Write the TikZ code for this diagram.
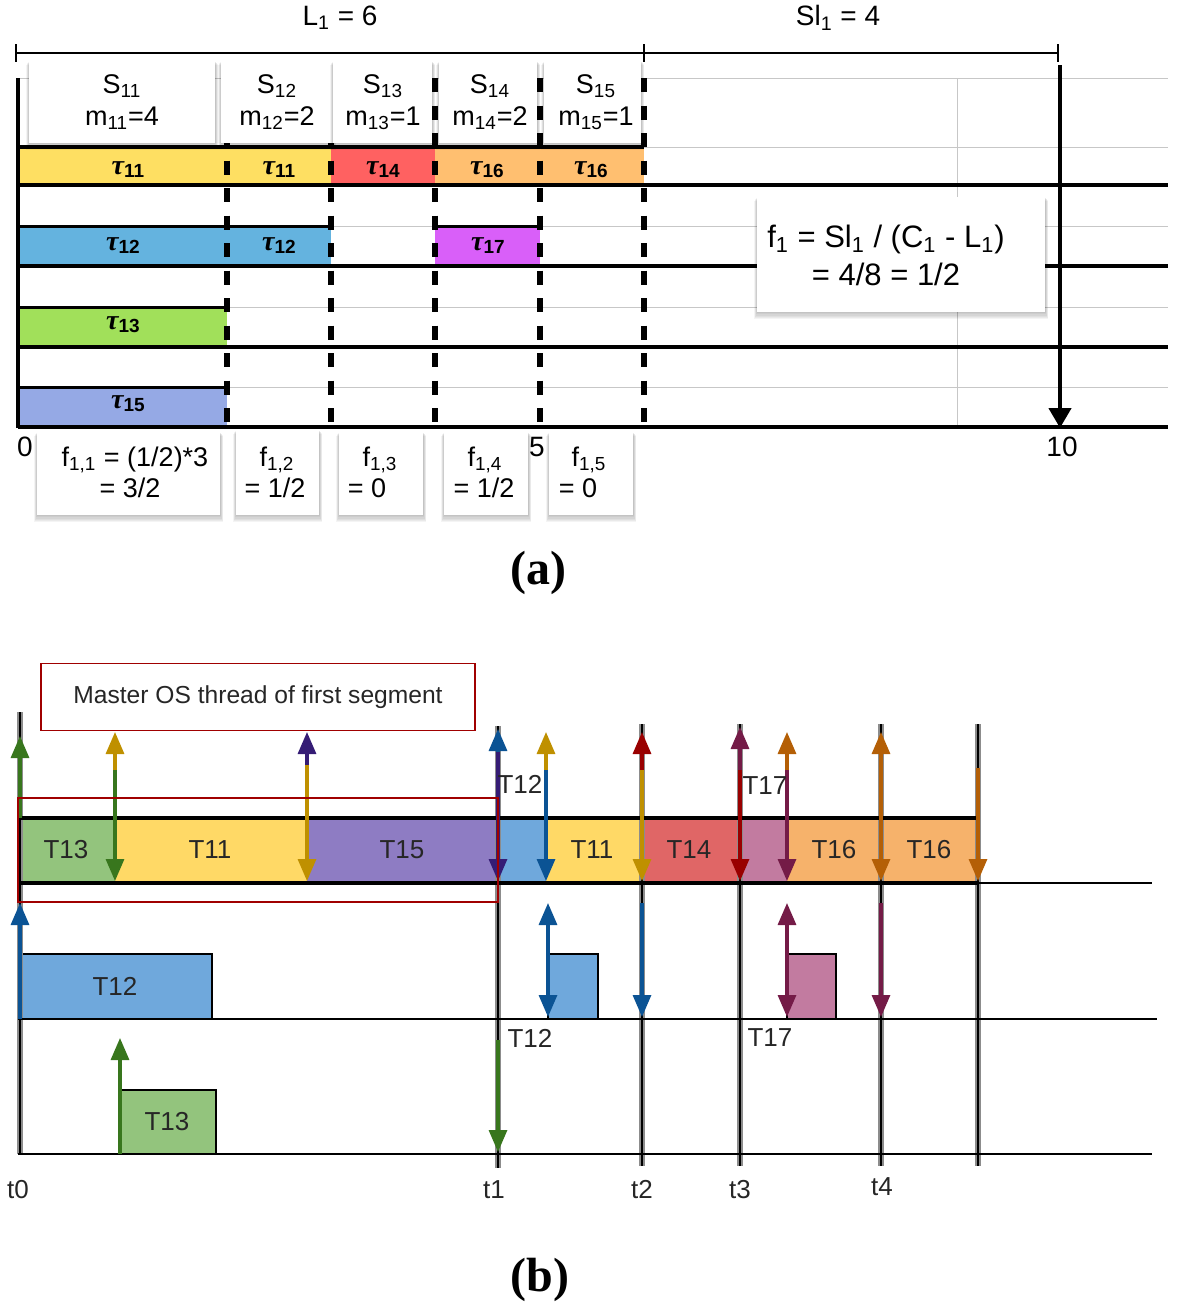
\documentclass[tikz,border=0pt]{standalone}
\usepackage{fontspec}
\setmainfont{Liberation Sans}
\newfontfamily\serifface{Liberation Serif}
\usetikzlibrary{arrows.meta}
\newcommand\sbs[1]{\textsubscript{#1}}
\newcommand\taul[1]{{\serifface\bfseries\itshape\fontsize{14}{14}\selectfont τ}\raisebox{-1.5pt}{\bfseries\fontsize{9.5}{10}\selectfont #1}}
\newcommand\varr[5]{\coordinate (#1s) at (#3,#4); \coordinate (#1e) at (#3,#5); \draw[arr,#2] (#1s) -- (#1e);}
\newcommand\darr[5]{\coordinate (#1s) at (#3,#4); \coordinate (#1e) at (#3,#5); \draw[darrow,#2] (#1s) -- (#1e);}
% soft-shadowed white box: x1 y1 x2 y2
\newcommand\shadowbox[4]{%
  \foreach \k in {1,...,6} {\fill[black, opacity=0.045] ({#1-0.5*\k},{#2+0.6*\k}) rectangle ({#3+0.5*\k},{#4+1.2*\k});}%
  \fill[white] (#1,#2) rectangle (#3,#4);}
% colours (a)
\definecolor{aY}{HTML}{FEDF62}
\definecolor{aR}{HTML}{FF6161}
\definecolor{aO}{HTML}{FFBF70}
\definecolor{aB}{HTML}{64B3DF}
\definecolor{aP}{HTML}{D95FF9}
\definecolor{aG}{HTML}{A1E05A}
\definecolor{aL}{HTML}{95A9E5}
% colours (b)
\definecolor{bG}{HTML}{93C47D}
\definecolor{bY}{HTML}{FFD966}
\definecolor{bP}{HTML}{8E7CC3}
\definecolor{bB}{HTML}{6FA8DC}
\definecolor{bR}{HTML}{E06666}
\definecolor{bK}{HTML}{C27BA0}
\definecolor{bO}{HTML}{F6B26B}
\definecolor{dG}{HTML}{38761D}
\definecolor{dY}{HTML}{BF9000}
\definecolor{dP}{HTML}{351C75}
\definecolor{dB}{HTML}{0B5394}
\definecolor{dR}{HTML}{990000}
\definecolor{dK}{HTML}{741B47}
\definecolor{dO}{HTML}{B45F06}
\definecolor{frame}{HTML}{A00000}
\begin{document}
\begin{tikzpicture}[x=0.5pt,y=-0.5pt,
  gridln/.style={draw=black!22, line width=0.5pt},
  blk/.style={draw=black, line width=2pt},
  blkthin/.style={draw=black, line width=1.5pt},
  dsh/.style={draw=black, line width=2.6pt, dash pattern=on 7pt off 6.75pt},
  alab/.style={inner sep=0pt, font=\fontsize{14}{16}\selectfont},
  hdr/.style={align=center, inner sep=0pt, font=\fontsize{13.5}{16}\selectfont},
  flab/.style={inner sep=0pt, anchor=base, font=\fontsize{13.5}{16}\selectfont},
  tlab/.style={inner sep=0pt},
  blab/.style={inner sep=0pt, text=black!85, font=\fontsize{13}{15}\selectfont},
  tline/.style={draw=black, line width=1.2pt, preaction={draw=black!45, line width=2.6pt}},
  arr/.style={line width=1.6pt, -{Triangle[width=9pt,length=11pt]}},
  darrow/.style={line width=1.6pt, {Triangle[width=9pt,length=11pt]}-{Triangle[width=9pt,length=11pt]}},
  caption/.style={inner sep=0pt, font=\serifface\bfseries\fontsize{24}{26}\selectfont}
]
\useasboundingbox (0,0) rectangle (1181,1307);

% ================= (a) =================
% grid
\draw[gridln] (18,78) -- (1168,78);
\foreach \yy in {147,226,307,387} \draw[gridln] (18,\yy) -- (1168,\yy);
\draw[gridln] (957,78) -- (957,427);

% bars
\fill[aY] (18,147) rectangle (331,185);
\fill[aR] (331,147) rectangle (435,185);
\fill[aO] (435,147) rectangle (644,185);
\fill[aB] (18,226) rectangle (331,266);
\fill[aP] (435,226) rectangle (540,266);
\fill[aG] (18,307) rectangle (227,347);
\fill[aL] (18,387) rectangle (227,427);

% black lines
\draw[blk] (18,147) -- (644,147);
\draw[blkthin] (18,226) -- (331,226);
\draw[blkthin] (435,226) -- (540,226);
\draw[blkthin] (18,307) -- (227,307);
\draw[blkthin] (18,387) -- (227,387);
\foreach \yy in {185,266,347,427} \draw[blk] (18,\yy) -- (1168,\yy);
\draw[blk] (18,78) -- (18,428);

% dashed segment boundaries
\foreach \xx in {227,331,435,540,644} \draw[dsh] (\xx,78) -- (\xx,427);

% bracket
\draw[line width=1.4pt] (16,53) -- (1058,53);
\foreach \xx in {16,644,1058} \draw[line width=0.8pt] (\xx,44) -- (\xx,62);
\node[alab] (l1) at (340,18) {L\sbs{1} = 6};
\node[alab] (sl1) at (838,18) {Sl\sbs{1} = 4};

% header boxes
\shadowbox{29}{61}{215}{143}
\shadowbox{221}{61}{333}{143}
\shadowbox{333}{61}{432}{143}
\shadowbox{439}{61}{537}{143}
\shadowbox{544}{61}{641}{143}
\node[hdr] (s11) at (122,102) {S\sbs{11}\\m\sbs{11}=4};
\node[hdr] (s12) at (277,102) {S\sbs{12}\\m\sbs{12}=2};
\node[hdr] (s13) at (383,102) {S\sbs{13}\\m\sbs{13}=1};
\node[hdr] (s14) at (490,102) {S\sbs{14}\\m\sbs{14}=2};
\node[hdr] (s15) at (596,102) {S\sbs{15}\\m\sbs{15}=1};

% task labels
\node[tlab] (ta1) at (128,170) {\taul{11}};
\node[tlab] (ta2) at (279,170) {\taul{11}};
\node[tlab] (ta3) at (383,170) {\taul{14}};
\node[tlab] (ta4) at (487,170) {\taul{16}};
\node[tlab] (ta5) at (591,170) {\taul{16}};
\node[tlab] (tb1) at (123,246) {\taul{12}};
\node[tlab] (tb2) at (279,246) {\taul{12}};
\node[tlab] (tb3) at (488,246) {\taul{17}};
\node[tlab] (tc1) at (123,325) {\taul{13}};
\node[tlab] (td1) at (128,404) {\taul{15}};

% formula box
\shadowbox{757}{197}{1045}{312}
\node[align=center, inner sep=0pt, font=\fontsize{15.5}{19}\selectfont] (form) at (886,255) {f\sbs{1} = Sl\sbs{1} / (C\sbs{1} - L\sbs{1})\\= 4/8 = 1/2};

% deadline arrow
\coordinate (dl1) at (1060,65);
\coordinate (dl2) at (1060,428);
\draw[line width=2.2pt, -{Triangle[width=11pt,length=10pt]}] (dl1) -- (dl2);

% axis numbers
\node[alab] (n0) at (25,447) {0};
\node[alab] (n5) at (537,447) {5};
\node[alab] (n10) at (1062,447) {10};

% f boxes
\shadowbox{37}{432}{220}{515}
\shadowbox{236}{430}{319}{515}
\shadowbox{339}{432}{423}{515}
\shadowbox{444}{432}{528}{515}
\shadowbox{549}{432}{633}{515}
\node[flab] (f11a) at (135,466) {f\sbs{1,1} = (1/2)*3};
\node[flab] (f11b) at (130,497) {= 3/2};
\node[flab] (f12a) at (277,466) {f\sbs{1,2}};
\node[flab] (f12b) at (275,497) {= 1/2};
\node[flab] (f13a) at (380,466) {f\sbs{1,3}};
\node[flab] (f13b) at (367,497) {= 0};
\node[flab] (f14a) at (485,466) {f\sbs{1,4}};
\node[flab] (f14b) at (484,497) {= 1/2};
\node[flab] (f15a) at (589,466) {f\sbs{1,5}};
\node[flab] (f15b) at (578,497) {= 0};

\node[caption] (capa) at (538,573) {(a)};

% ================= (b) =================
\node[draw=frame, line width=0.9pt, minimum width=217pt, minimum height=33.5pt, inner sep=0pt, text=black!85, font=\fontsize{12.3}{14}\selectfont] (master) at (258,697) {Master OS thread of first segment};

% bar fills
\fill[bG] (18,818) rectangle (115,883);
\fill[bY] (115,818) rectangle (307,883);
\fill[bP] (307,818) rectangle (498,883);
\fill[bB] (498,818) rectangle (546,883);
\fill[bY] (546,818) rectangle (642,883);
\fill[bR] (642,818) rectangle (740,883);
\fill[bK] (740,818) rectangle (787,883);
\fill[bO] (787,818) rectangle (978,883);

% lower boxes
\filldraw[fill=bB, draw=black, line width=0.9pt] (20,954) rectangle (212,1019);
\filldraw[fill=bB, draw=black, line width=0.9pt] (548,954) rectangle (598,1019);
\filldraw[fill=bK, draw=black, line width=0.9pt] (787,954) rectangle (836,1019);
\filldraw[fill=bG, draw=black, line width=0.9pt] (120,1090) rectangle (216,1154);

% time lines
\draw[tline] (20,712) -- (20,1154);
\draw[tline] (498,726) -- (498,1168);
\foreach \xx in {642,740,881,978} \draw[tline] (\xx,724) -- (\xx,1166);

% horizontal lines
\draw[line width=1.7pt] (18,818) -- (978,818);
\draw[line width=1.7pt] (18,883) -- (978,883);
\draw[line width=0.8pt] (978,883) -- (1152,883);
\draw[line width=1pt] (18,1019) -- (1157,1019);
\draw[line width=1pt] (18,1154) -- (1152,1154);

% arrows in the top row
\varr{g0}{dG}{20}{818}{736}
\varr{y1}{dY}{115}{800}{732}
\varr{g1}{dG}{115}{770}{881}
\varr{p2}{dP}{307}{770}{732}
\varr{y2}{dY}{307}{765}{881}
\varr{b3}{dB}{498}{770}{729}
\varr{p3}{dP}{498}{752}{881}
\varr{y4}{dY}{546}{780}{732}
\varr{b4}{dB}{546}{770}{881}
\varr{r5}{dR}{642}{780}{732}
\varr{y5}{dY}{642}{770}{881}
\varr{m6}{dK}{740}{780}{727}
\varr{r6}{dR}{740}{770}{881}
\varr{o7}{dO}{787}{780}{732}
\varr{m7}{dK}{787}{770}{881}
\varr{o8}{dO}{881}{780}{732}
\varr{o8b}{dO}{881}{770}{881}
\varr{o9}{dO}{978}{768}{881}
% second row
\varr{b10}{dB}{20}{1019}{903}
\darr{b11}{dB}{548}{903}{1017}
\varr{b12}{dB}{642}{903}{1017}
\darr{m13}{dK}{787}{903}{1017}
\varr{m14}{dK}{881}{903}{1017}
% third row
\varr{g15}{dG}{120}{1154}{1038}
\varr{g16}{dG}{498}{1040}{1152}

% master thread outline
\draw[frame, line width=0.9pt] (18,798) rectangle (498,902);

% labels
\node[blab] (x1) at (66,850) {T13};
\node[blab] (x2) at (210,850) {T11};
\node[blab] (x3) at (402,850) {T15};
\node[blab] (x4) at (592,850) {T11};
\node[blab] (x5) at (689,850) {T14};
\node[blab] (x6) at (834,850) {T16};
\node[blab] (x7) at (929,850) {T16};
\node[blab] (x8) at (115,986) {T12};
\node[blab] (x9) at (167,1122) {T13};
\node[blab] (x10) at (520,784) {T12};
\node[blab] (x11) at (765,786) {T17};
\node[blab] (x12) at (530,1038) {T12};
\node[blab] (x13) at (770,1038) {T17};
\node[blab] (t0) at (18,1190) {t0};
\node[blab] (t1) at (494,1190) {t1};
\node[blab] (t2) at (642,1190) {t2};
\node[blab] (t3) at (740,1190) {t3};
\node[blab] (t4) at (882,1187) {t4};

\node[caption] (capb) at (540,1280) {(b)};
\end{tikzpicture}
\end{document}
